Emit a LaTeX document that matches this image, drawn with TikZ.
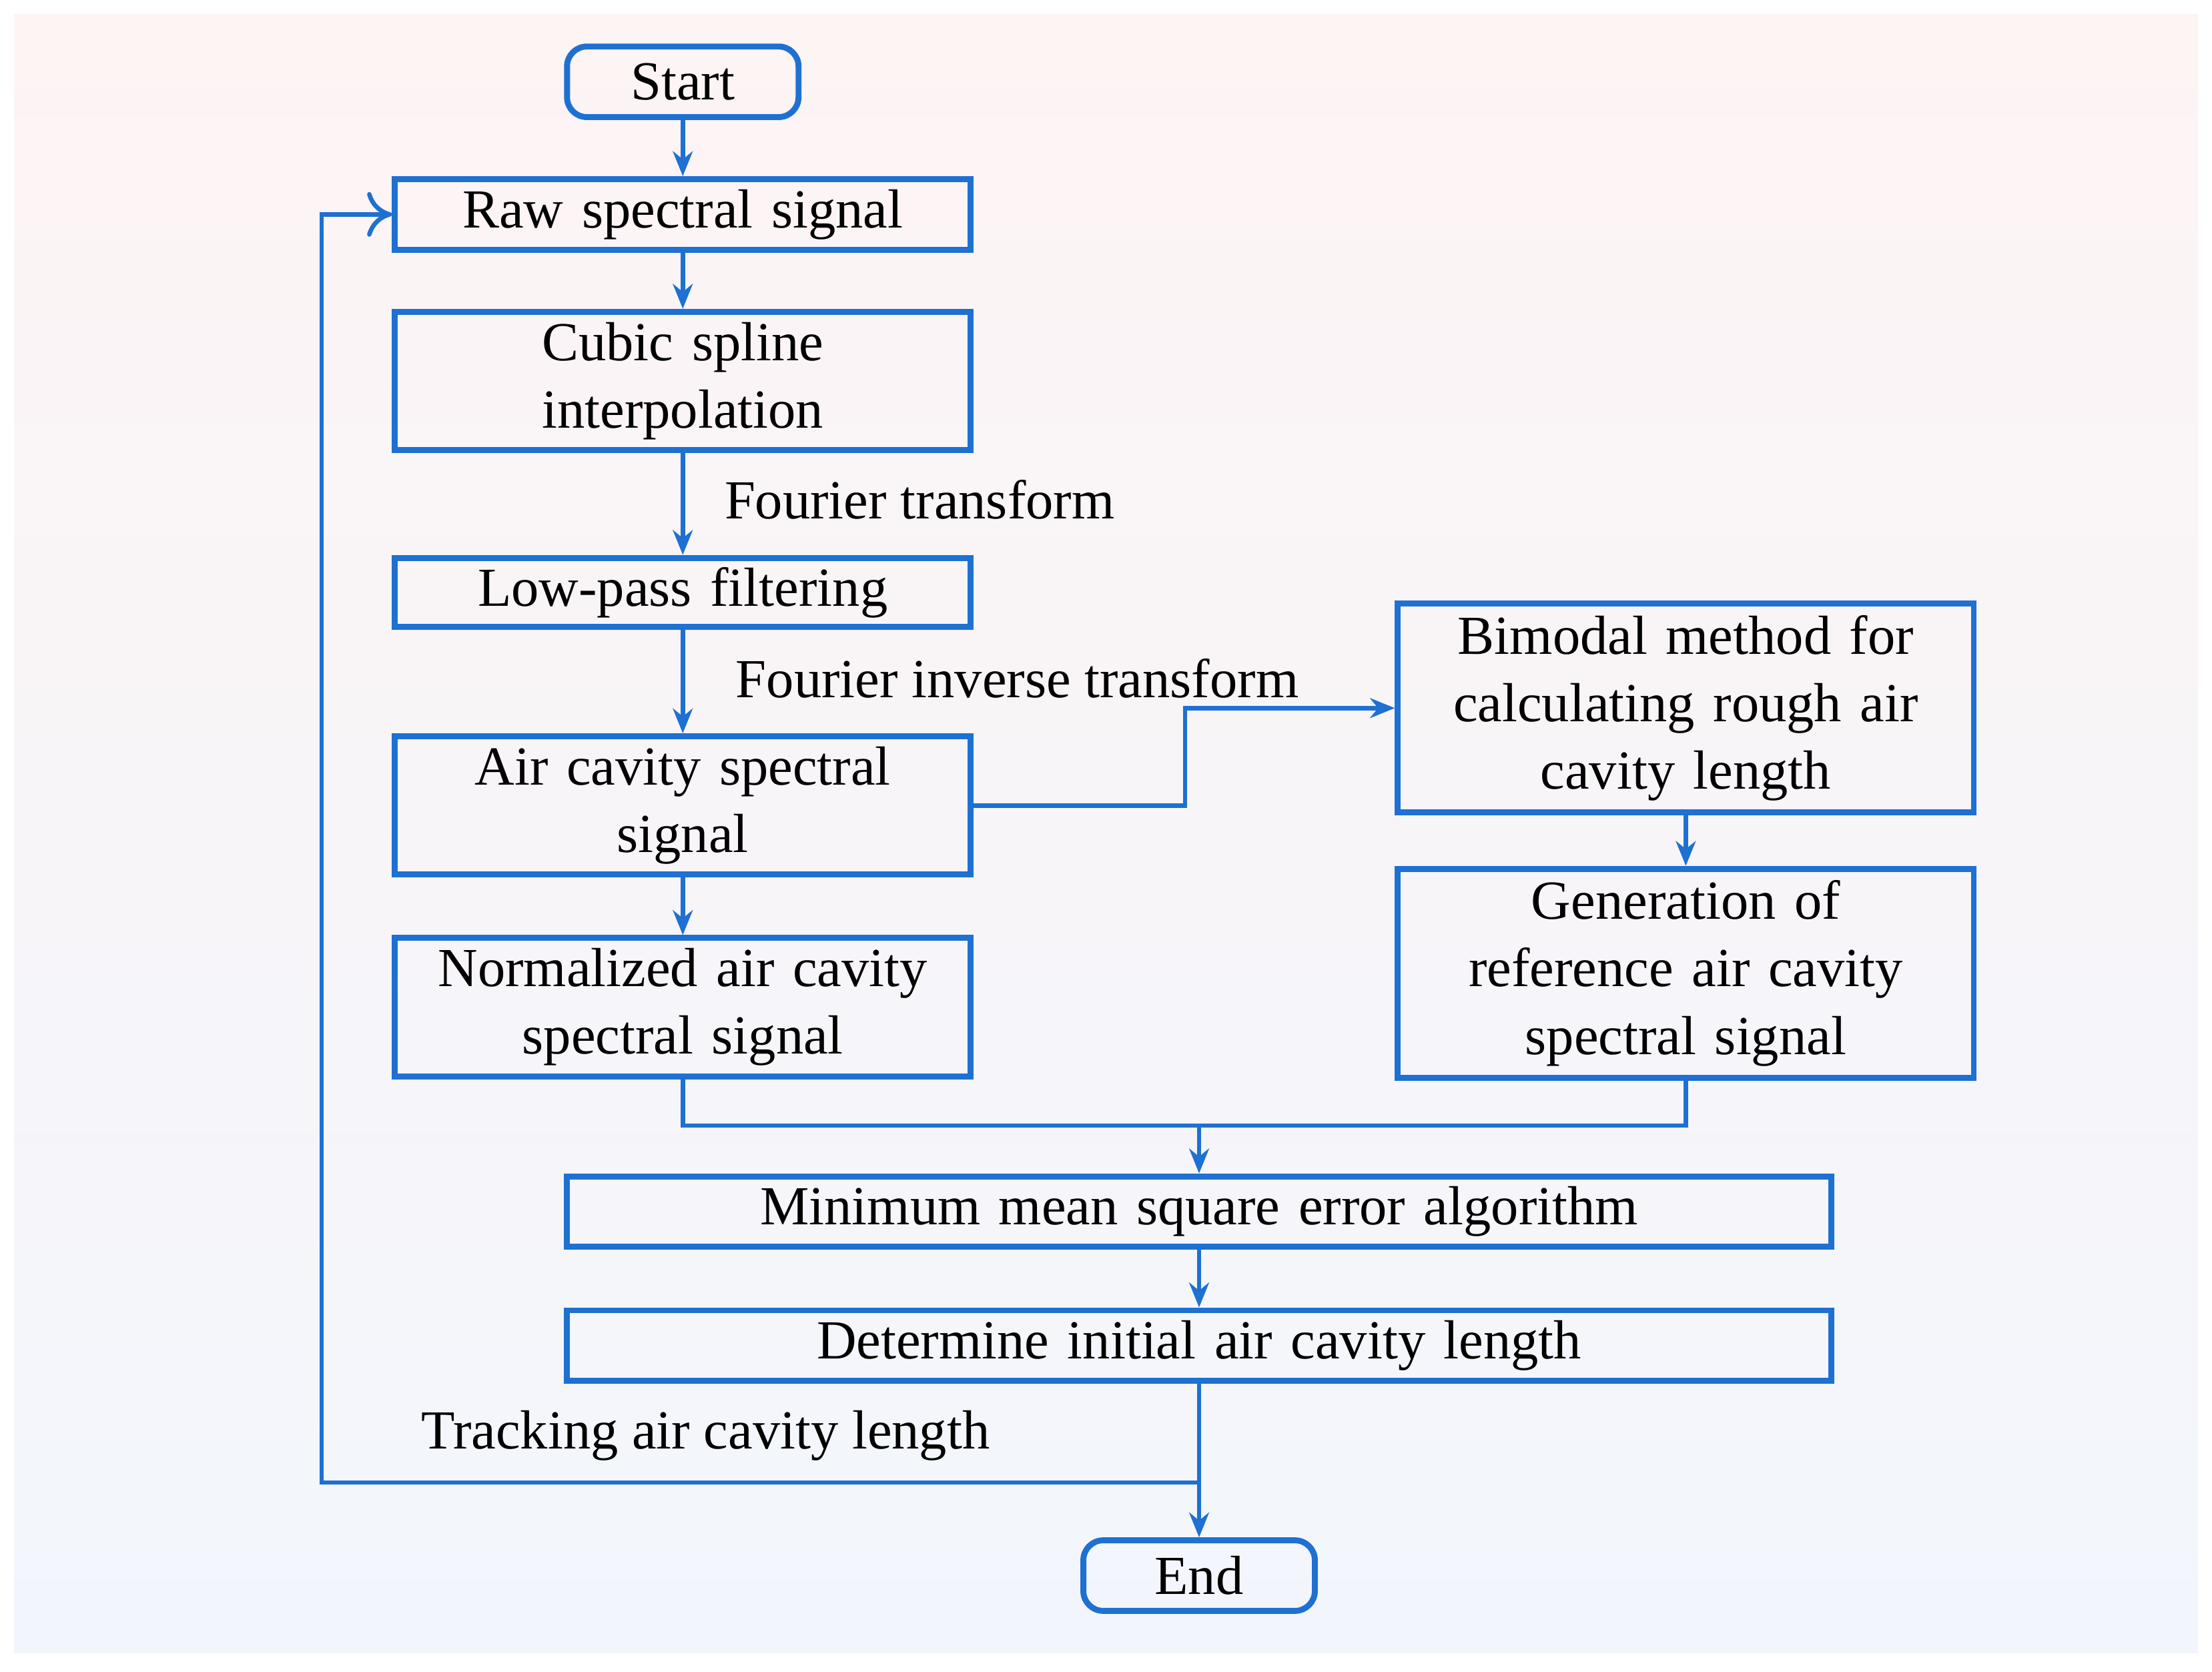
\documentclass[tikz,border=0pt]{standalone}
\usepackage{fontspec}
\setmainfont{Liberation Serif}
\usetikzlibrary{arrows.meta}
\definecolor{bl}{RGB}{30,112,210}
\begin{document}
\begin{tikzpicture}[x=0.01cm,y=-0.01cm,
  box/.style={draw=bl,line width=1.2pt,align=center,inner sep=0pt,font=\fontsize{11.1}{13.6}\selectfont},
  lab/.style={anchor=west,inner sep=0pt,font=\fontsize{11.1}{13}\selectfont},
  arr/.style={draw=bl,line width=0.9pt,-{Stealth[length=5pt,width=4pt]}}]
\useasboundingbox (0,0) rectangle (1568,1185);
\shade[top color={rgb,255:red,253;green,244;blue,244},bottom color={rgb,255:red,242;green,246;blue,252}] (10,10) rectangle (1558,1172);
\node[box,rounded corners=4pt,text width=1.64cm,minimum height=0.5cm] (start) at (484,58) {Start};
\node[box,text width=4.08cm,minimum height=0.5cm] (raw) at (484,152) {Raw spectral signal};
\node[box,text width=4.08cm,minimum height=0.98cm] (cub) at (484,270) {Cubic spline\\interpolation};
\node[box,text width=4.08cm,minimum height=0.49cm] (low) at (484,420) {Low-pass filtering};
\node[box,text width=4.08cm,minimum height=0.98cm] (air) at (484,571) {Air cavity spectral\\signal};
\node[box,text width=4.08cm,minimum height=0.98cm] (nor) at (484,714) {Normalized air cavity\\spectral signal};
\node[box,text width=4.08cm,minimum height=1.48cm] (bim) at (1195,502) {Bimodal method for\\calculating rough air\\cavity length};
\node[box,text width=4.08cm,minimum height=1.48cm] (gen) at (1195,690) {Generation of\\reference air cavity\\spectral signal};
\node[box,text width=8.96cm,minimum height=0.5cm] (mm) at (850,859) {Minimum mean square error algorithm};
\node[box,text width=8.96cm,minimum height=0.5cm] (det) at (850,954) {Determine initial air cavity length};
\node[box,rounded corners=4pt,text width=1.64cm,minimum height=0.5cm] (end) at (850,1117) {End};
\node[lab] (l1) at (513,354) {Fourier transform};
\node[lab] (l2) at (521,481) {Fourier inverse transform};
\node[lab] (l3) at (298,1018) {Tracking air cavity length};
\draw[arr] (start) -- (raw);
\draw[arr] (raw) -- (cub);
\draw[arr] (cub) -- (low);
\draw[arr] (low) -- (air);
\draw[arr] (air) -- (nor);
\draw[arr] (air.east) -- (840,571) -- (840,502) -- (bim.west);
\draw[arr] (bim) -- (gen);
\draw[draw=bl,line width=0.9pt] (nor.south) -- (484,798) -- (1195,798) -- (gen.south);
\coordinate (j) at (850,798);
\draw[arr] (j) -- (mm.north);
\draw[arr] (mm) -- (det);
\draw[arr] (det) -- (end);
\coordinate (t) at (850,1051);
\draw[draw=bl,line width=0.9pt,-{To[length=5pt,width=9pt]}] (t) -- (228,1051) -- (228,152) -- (raw.west);
\end{tikzpicture}
\end{document}
